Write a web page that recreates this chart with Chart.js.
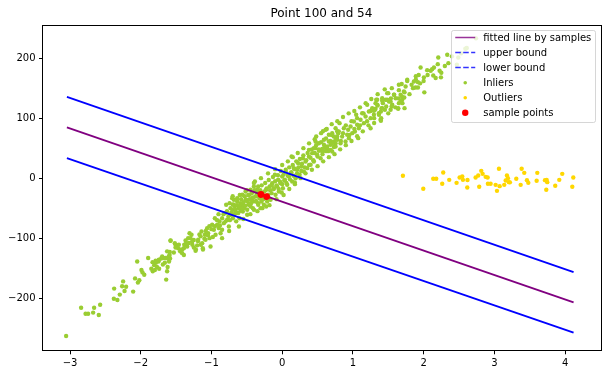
<!DOCTYPE html>
<html>
<head>
<meta charset="utf-8">
<script src="https://cdn.jsdelivr.net/npm/chart.js@4.4.1/dist/chart.umd.min.js"></script>
<style>
  html, body { margin: 0; padding: 0; background: #fff; }
  canvas { display: block; }
</style>
</head>
<body>
<canvas id="ransac" width="606" height="373"></canvas>
<script>
// values
const chartTitle = 'Point 100 and 54';
const legendLabels = ['fitted line by samples', 'upper bound', 'lower bound', 'Inliers', 'Outliers', 'sample points'];

const xTicks = [-3, -2, -1, 0, 1, 2, 3, 4];
const yTicks = [-200, -100, 0, 100, 200];
const xRange = [-3.389, 4.498];
const yRange = [-287.7, 255.6];

// straight lines: two end points each
const lineX = [-3.044, 4.12];
const fittedY = [84.5, -207];
const upperY = [135.5, -156.5];
const lowerY = [33.5, -257.5];

const samplePts = [[-0.30, -27.2], [-0.22, -30.6]];

const outlierPts = [
  [1.707, 4], [1.995, -17.7], [2.136, -1], [2.178, -1], [2.277, 9.5], [2.263, -9.4], [2.362, -2.8],
  [2.466, -7.8], [2.509, 1.1], [2.546, 2.8], [2.556, -2.8], [2.617, -15.5], [2.62, -3], [2.735, 1.1],
  [2.772, 4.5], [2.786, -14.4], [2.815, 12.2], [2.834, 7.2], [2.877, 2.2], [2.905, 1.1], [2.909, -9.4],
  [2.947, -9.4], [3.018, -11.1], [3.037, -21.1], [3.065, 15.6], [3.075, -13.3], [3.14, -11.1],
  [3.16, -3.9], [3.178, 4.5], [3.192, 0], [3.206, -6.6], [3.22, -7], [3.31, -1], [3.372, -11.1],
  [3.386, 15.6], [3.423, 8.9], [3.461, -3.3], [3.48, -7.8], [3.607, 8.9], [3.598, -4.4], [3.716, -3.3],
  [3.74, -3], [3.748, -6.6], [3.734, -19.4], [3.861, -12.7], [3.918, -2.8], [3.96, 7.2],
  [4.102, -14.4], [4.116, 1.1]
];

const inlierPts = [
  // lower tail
  [-3.055, -263], [-2.843, -216], [-2.78, -226], [-2.744, -226], [-2.673, -224], [-2.659, -216],
  [-2.574, -211], [-2.593, -228], [-2.38, -201], [-2.33, -203], [-2.376, -184], [-2.296, -194],
  [-2.263, -180], [-2.249, -172], [-2.207, -181], [-2.229, -188], [-2.107, -189], [-2.08, -167],
  [-2.04, -174], [-2.02, -170], [-2.05, -139], [-1.99, -153], [-1.975, -157], [-1.95, -161],
  [-1.895, -133], [-1.85, -151], [-1.83, -155], [-1.80, -153], [-1.833, -140], [-1.786, -141],
  [-1.748, -139], [-1.81, -145], [-1.77, -148], [-1.74, -151], [-1.711, -134], [-1.673, -133],
  [-1.687, -144], [-1.659, -141], [-1.64, -169], [-1.627, -155], [-1.62, -148], [-1.615, -134],
  [-1.60, -139], [-1.605, -131], [-1.585, -134], [-1.627, -122], [-1.589, -123], [-1.578, -104],
  [-1.592, -128], [-1.532, -124], [-1.508, -111], [-1.494, -113], [-1.471, -117], [-1.443, -122],
  [-1.414, -119], [-1.39, -128], [-1.385, -111], [-1.366, -104], [-1.343, -114], [-1.32, -108],
  [-1.296, -100], [-1.27, -111], [-1.25, -103], [-1.22, -119], [-1.19, -105], [-1.17, -94],
  [-1.15, -111], [-1.12, -119], [-1.10, -101],
  [-1.744, -136], [-1.697, -130.5], [-1.65, -133], [-1.603, -130.5], [-1.79, -137.7],
  // lower middle
  [-1.579, -104.4], [-1.518, -108.3], [-1.461, -111], [-1.508, -115.5], [-1.437, -119.4], [-1.39, -116.7],
  [-1.414, -125], [-1.358, -108.3], [-1.33, -100], [-1.31, -91.7], [-1.282, -94.4], [-1.273, -105.5],
  [-1.249, -115.5], [-1.225, -121], [-1.202, -112], [-1.188, -102.7], [-1.154, -97], [-1.14, -88.8],
  [-1.131, -108.3], [-1.122, -116.7], [-1.093, -94.4], [-1.084, -102.7], [-1.061, -83.3], [-1.047, -91.7],
  [-1.027, -100], [-1.013, -113.8], [-0.99, -77.7], [-0.966, -86], [-0.952, -66.7], [-0.942, -94.4],
  [-0.919, -77.7], [-0.895, -83.3], [-0.886, -72.2], [-0.871, -91.7], [-0.849, -66.7], [-0.825, -75],
  [-0.81, -58.3], [-0.792, -44.4], [-0.778, -69.4], [-0.754, -80.5], [-0.744, -41.6], [-0.73, -61],
  [-0.707, -52.7], [-0.697, -66.7], [-0.683, -36], [-0.669, -47.2], [-0.65, -58.3], [-0.636, -33.3],
  [-0.612, -80.5], [-0.612, -50], [-0.603, -66.7], [-0.589, -41.6], [-0.565, -27.7], [-0.556, -55.5],
  [-0.542, -47.2], [-0.518, -22.2], [-0.509, -36], [-0.495, -61], [-0.471, -44.4], [-0.462, -27.7],
  [-0.447, -19.4], [-0.424, -38.9], [-0.414, -50], [-0.40, -13.9], [-0.376, -30.5], [-0.353, -22.2],
  [-0.339, -41.6], [-0.386, -5.5],
  [-1.05, -95], [-1.0, -85], [-0.98, -98], [-1.08, -88], [-1.03, -80],
  // centre
  [0.614, 80.6], [0.66, 72.3], [0.707, 75], [0.755, 83.3], [0.778, 69.5], [0.731, 61.2], [0.684, 55.6],
  [0.637, 50], [0.59, 64], [0.566, 44.5], [0.519, 58.3], [0.495, 39], [0.543, 33.3], [0.472, 50],
  [0.448, 27.8], [0.424, 41.7], [0.402, 22.3], [0.378, 36.2], [0.354, 16.7], [0.331, 27.8], [0.307, 11.2],
  [0.293, 33.3], [0.274, 19.5], [0.246, 5.6], [0.226, 25], [0.212, 14], [0.19, 0], [0.165, 16.7],
  [0.141, -5.5], [0.119, 8.3], [0.133, 36.2], [0.095, 2.8], [0.071, -11], [0.048, 11.2], [0.038, -2.7],
  [0.01, -16.7], [0, 2.8], [-0.023, -8.3], [-0.047, -22.2], [-0.057, -2.7], [-0.07, -13.9], [-0.094, -27.7],
  [-0.103, 5.6], [-0.117, -16.7], [-0.141, -8.3], [-0.15, -25], [-0.164, -36], [-0.178, -13.9],
  [-0.198, -27.7], [-0.212, -38.9], [-0.226, -19.4], [-0.245, -33.3], [-0.259, -44.4], [-0.283, -25],
  [-0.292, -38.9], [-0.306, -50], [-0.33, -30.5], [-0.339, -44.4], [-0.353, -19.4], [-0.377, -38.9],
  [-0.4, -52.7], [-0.424, -33.3], [-0.447, -47.2], [-0.471, -41.6], [-0.495, -52.7], [-0.518, -36],
  [-0.542, -50], [-0.566, -44.4], [-0.589, -54.4], [-0.612, -47.2], [-0.636, -38.9], [-0.66, -52.7],
  [-0.683, -44.4], [-0.707, -33.3], [-0.73, -50], [-0.226, -47.2], [-0.008, -23.9], [0.179, -7.2],
  [0.378, 47.2], [0.62, 45], [0.707, 44.5], [0.755, 58.3], [0.778, 78.4], [0.576, 78.4], [0.481, 69.5],
  [-0.95, -80], [-0.92, -70], [-0.88, -79], [-0.85, -86], [-0.83, -60], [-0.80, -72], [-0.78, -55],
  [-0.76, -64], [-0.74, -70], [-0.72, -58], [-0.70, -44], [-0.68, -60], [-0.66, -55], [-0.64, -45],
  [-0.62, -58], [-0.60, -48], [-0.58, -35], [-0.57, -50], [-0.55, -40], [-0.53, -30], [-0.52, -46],
  [-0.50, -38], [-0.48, -28], [-0.46, -35], [-0.44, -42], [-0.43, -25], [-0.41, -32], [-0.39, -20],
  [-0.37, -38], [-0.36, -26], [-0.34, -14], [-0.32, -34], [-0.31, -20], [-0.29, -12], [-0.27, -35],
  [-0.25, -22], [-0.24, -8], [-0.22, -17], [-0.20, -30], [-0.19, -3], [-0.17, -20], [-0.15, -12],
  [-0.13, 2], [-0.12, -18], [-0.10, -5], [-0.08, -12], [-0.06, 5], [-0.05, -18], [-0.03, -6], [-0.02, 12],
  [0.0, -10], [0.02, 6], [0.03, -4], [0.05, 14], [0.06, -8], [0.08, 4], [0.10, 18], [0.11, -2], [0.13, 10],
  [0.15, 22], [0.16, 4], [0.18, 15], [0.20, 28], [0.21, 8], [0.23, 18], [0.25, 32], [0.27, 12], [0.28, 24],
  [0.30, 38], [0.32, 18], [0.34, 30], [0.36, 42], [0.38, 22], [0.40, 34], [0.42, 48], [0.44, 30],
  [0.46, 42], [0.48, 55], [0.50, 36], [0.52, 48], [0.55, 60], [0.57, 40], [0.60, 52], [0.62, 66],
  [0.65, 45], [0.68, 62], [0.70, 72], [0.73, 52], [0.76, 66], [0.80, 78], [0.83, 62], [0.86, 75],
  [0.90, 88], [0.95, 72], [0.98, 95], [1.02, 82], [1.06, 100], [1.10, 88], [1.15, 108], [1.20, 95],
  [1.25, 112], [1.30, 100],
  // band edges, centre
  [-0.9, -60], [-0.85, -100], [-0.75, -88], [-0.7, -30], [-0.65, -72], [-0.6, -28], [-0.55, -68],
  [-0.5, -20], [-0.45, -60], [-0.4, -8], [-0.35, -55], [-0.3, 0], [-0.28, -50], [-0.2, 8], [-0.18, -45],
  [-0.1, 15], [-0.08, -35], [0.0, 22], [0.02, -28], [0.08, 28], [0.1, -18], [0.15, 35], [0.18, -10],
  [0.22, 42], [0.26, 0], [0.3, 50], [0.33, 8], [0.38, 58], [0.42, 14], [0.46, 65], [0.5, 20], [0.55, 75],
  [0.58, 28], [0.63, 82], [0.66, 35], [0.7, 90], [0.74, 40], [0.78, 95], [0.82, 48], [0.86, 102],
  [0.9, 55], [0.94, 108], [0.98, 62], [1.02, 112], [1.06, 70], [1.1, 118], [1.14, 78], [1.18, 125],
  [1.22, 88], [1.26, 132], [1.3, 92], [1.35, 140], [1.4, 100], [1.45, 148], [1.5, 108], [1.55, 150],
  [1.6, 118], [1.7, 125], [1.8, 140], [1.95, 158], [2.05, 180], [2.2, 190],
  // upper middle
  [1.768, 164], [1.745, 152.8], [1.721, 144.5], [1.674, 139], [1.697, 130.7], [1.65, 125], [1.64, 116.7],
  [1.604, 133.3], [1.58, 139], [1.556, 122.3], [1.533, 127.8], [1.5, 141.7], [1.485, 130.7], [1.471, 119.5],
  [1.452, 114], [1.424, 125], [1.405, 116.7], [1.391, 97.3], [1.367, 108.3], [1.344, 122.3], [1.33, 130.7],
  [1.311, 114], [1.297, 105.6], [1.273, 116.7], [1.25, 100], [1.226, 111.2], [1.202, 122.3], [1.179, 102.8],
  [1.155, 91.7], [1.131, 108.3], [1.108, 97.3], [1.084, 83.3], [1.06, 89], [1.046, 105.6], [1.028, 77.8],
  [1.014, 94.5], [0.99, 75], [0.967, 86.2], [0.943, 66.7], [0.933, 80.6], [0.919, 72.3], [0.896, 61.2],
  [0.872, 83.3], [0.848, 69.5], [0.825, 58.3], [0.811, 91.7], [0.792, 75], [0.778, 64], [0.755, 52.8],
  [0.731, 69.5], [0.707, 58.3], [0.684, 47.2], [0.66, 61.2], [0.636, 52.8], [0.613, 45.5], [0.59, 55.6],
  [0.566, 48.8], [0.519, 45.5], [0.472, 61.2], [0.448, 50], [1.075, 66.7], [1.25, 83.3], [1.65, 155.6],
  [1.414, 133.3],
  // upper tail
  [2.59, 215.6], [2.49, 201], [2.40, 203], [2.334, 205.6], [2.207, 201], [2.35, 191.7], [2.30, 187],
  [2.226, 179], [2.25, 175.7], [2.245, 168], [2.146, 184.5], [2.12, 181.7], [2.10, 179], [2.136, 171],
  [2.056, 172], [2.004, 168], [1.957, 184.5], [1.93, 172], [1.89, 170], [1.89, 164.5], [1.863, 161],
  [1.83, 155.7], [1.85, 150], [1.886, 151], [1.92, 151], [1.92, 160], [1.768, 162], [1.69, 157],
  [1.73, 143], [2.01, 143], [1.65, 146.7], [1.584, 139], [1.64, 133], [1.675, 129], [1.693, 136],
  [1.726, 134.5], [1.73, 116.7], [1.64, 115.7], [1.485, 141.7], [1.462, 130.7], [1.51, 127.8],
  [1.537, 133], [1.547, 119.5], [1.533, 114], [1.414, 129], [1.343, 130.7], [1.32, 125], [1.35, 121],
  [1.32, 115.7], [1.297, 112.3], [1.396, 111], [1.414, 116.7], [1.368, 105.7], [1.396, 95.7],
  [2.61, 217], [2.74, 233], [2.53, 208], [2.47, 189], [2.17, 167], [2.0, 162]
];

const toXY = pts => pts.map(p => ({ x: p[0], y: p[1] }));
const lineXY = ys => lineX.map((x, i) => ({ x, y: ys[i] }));
const minus = v => String(v).replace('-', '\u2212');
const FONT = 'DejaVu Sans';

// matplotlib-like legend box drawn over the plot
const legendPlugin = {
  id: 'mplLegend',
  afterDraw(chart) {
    const { ctx, chartArea } = chart;
    ctx.save();
    ctx.font = '10px "' + FONT + '"';
    const textW = Math.max(...legendLabels.map(t => ctx.measureText(t).width));
    const rowH = 15.06;
    const w = 4 + 20 + 8 + textW + 4;
    const h = rowH * legendLabels.length + 2;
    const x0 = chartArea.right - 5 - w;
    const y0 = chartArea.top + 5;

    ctx.beginPath();
    ctx.roundRect(Math.round(x0) + 0.5, Math.round(y0) + 0.5, Math.round(w), Math.round(h), 2);
    ctx.fillStyle = 'rgba(255,255,255,0.8)';
    ctx.fill();
    ctx.strokeStyle = 'rgba(204,204,204,0.8)';
    ctx.lineWidth = 1;
    ctx.stroke();

    chart.data.datasets.forEach((ds, i) => {
      const cy = y0 + 7.7 + i * rowH;
      const hx = x0 + 4;
      if (ds.showLine) {
        ctx.save();
        ctx.globalAlpha = 0.8;
        ctx.strokeStyle = ds.borderColor;
        ctx.lineWidth = 1.5;
        ctx.setLineDash(ds.legendDash || []);
        ctx.beginPath();
        ctx.moveTo(hx, cy);
        ctx.lineTo(hx + 20, cy);
        ctx.stroke();
        ctx.restore();
      } else {
        ctx.beginPath();
        ctx.arc(hx + 10, cy, ds.legendRadius, 0, Math.PI * 2);
        ctx.fillStyle = ds.backgroundColor;
        ctx.fill();
      }
      ctx.fillStyle = '#000';
      ctx.textBaseline = 'middle';
      ctx.textAlign = 'left';
      ctx.fillText(ds.label, hx + 28, cy + 0.5);
    });
    ctx.restore();
  }
};

// axes frame on all four sides
const framePlugin = {
  id: 'frame',
  afterDatasetsDraw(chart) {
    const { ctx, chartArea: a } = chart;
    ctx.save();
    ctx.strokeStyle = '#000';
    ctx.lineWidth = 1;
    ctx.strokeRect(Math.round(a.left) - 0.5, Math.round(a.top) + 0.5,
      Math.round(a.right - a.left) + 1, Math.round(a.bottom - a.top) - 1);
    ctx.restore();
  }
};

const tickCommon = { color: '#000', font: { family: FONT, size: 10 }, padding: 3.5, includeBounds: false };
const gridCommon = { display: true, drawOnChartArea: false, drawTicks: true, tickLength: 3.5, color: '#000' };

new Chart(document.getElementById('ransac'), {
  type: 'scatter',
  data: {
    datasets: [
      { label: legendLabels[0], data: lineXY(fittedY), showLine: true, borderColor: '#800080',
        borderWidth: 1.8, pointRadius: 0, order: 1 },
      { label: legendLabels[1], data: lineXY(upperY), showLine: true, borderColor: '#0000ff',
        borderWidth: 1.8, pointRadius: 0, order: 2, legendDash: [5.55, 2.4] },
      { label: legendLabels[2], data: lineXY(lowerY), showLine: true, borderColor: '#0000ff',
        borderWidth: 1.8, pointRadius: 0, order: 3, legendDash: [5.55, 2.4] },
      { label: legendLabels[3], data: toXY(inlierPts), backgroundColor: '#9acd32', pointRadius: 2.2,
        pointBorderWidth: 0, order: 5, legendRadius: 1.8 },
      { label: legendLabels[4], data: toXY(outlierPts), backgroundColor: '#ffd700', pointRadius: 2.2,
        pointBorderWidth: 0, order: 4, legendRadius: 1.8 },
      { label: legendLabels[5], data: toXY(samplePts), backgroundColor: '#ff0000', pointRadius: 3.4,
        pointBorderWidth: 0, order: 0, legendRadius: 3.2 }
    ]
  },
  options: {
    responsive: false,
    devicePixelRatio: 1,
    animation: false,
    events: [],
    layout: { padding: { left: 0, right: 5.7, top: 1.5, bottom: 0 } },
    plugins: {
      legend: { display: false },
      tooltip: { enabled: false },
      title: {
        display: true,
        text: chartTitle,
        fullSize: false,
        color: '#000',
        font: { family: FONT, size: 12, weight: 'normal' },
        padding: { top: 5, bottom: 3.9 }
      }
    },
    scales: {
      x: {
        type: 'linear',
        min: xRange[0],
        max: xRange[1],
        border: { display: false },
        grid: gridCommon,
        afterFit: s => { s.height = 22.2; },
        afterBuildTicks: s => { s.ticks = xTicks.map(v => ({ value: v })); },
        ticks: { ...tickCommon, maxRotation: 0, callback: v => minus(v) }
      },
      y: {
        type: 'linear',
        min: yRange[0],
        max: yRange[1],
        border: { display: false },
        grid: gridCommon,
        afterFit: s => { s.width = 42.5; },
        afterBuildTicks: s => { s.ticks = yTicks.map(v => ({ value: v })); },
        ticks: { ...tickCommon, callback: v => minus(v) }
      }
    }
  },
  plugins: [framePlugin, legendPlugin]
});
</script>
</body>
</html>
